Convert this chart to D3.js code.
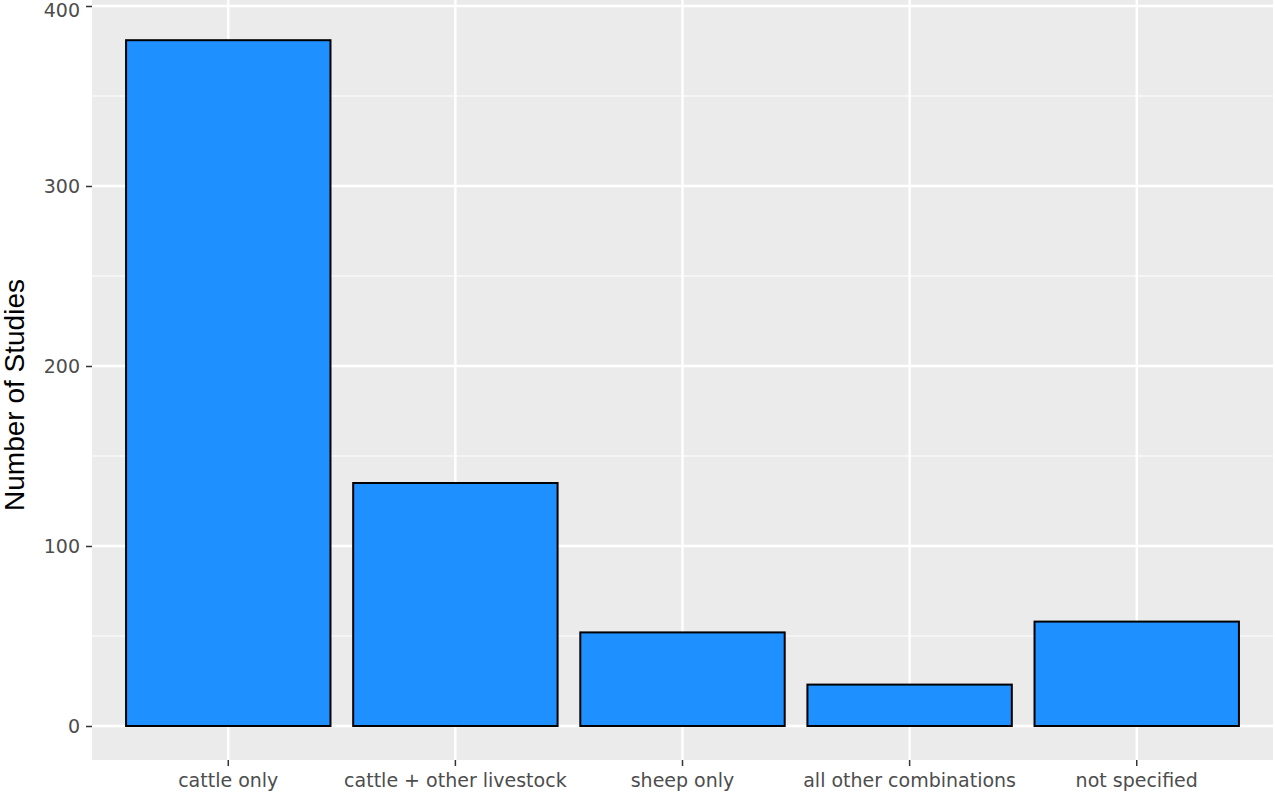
<!DOCTYPE html>
<html>
<head>
<meta charset="UTF-8" />
<script src="https://d3js.org/d3.v7.min.js"></script>
<style>
  body { margin: 0; background: #fff; }
  svg text { font-family: "DejaVu Sans", sans-serif; }
</style>
</head>
<body>
<div id="chart"></div>
<script>
  const categories = ["cattle only", "cattle + other livestock", "sheep only", "all other combinations", "not specified"];
  const studies = [381, 135, 52, 23, 58];
  const yTicks = [0, 100, 200, 300, 400];

  const W = 1275, H = 799;
  const panel = { left: 92, right: 1273, top: 0, bottom: 760 };

  const svg = d3.select("#chart").append("svg")
    .attr("width", W).attr("height", H);

  // ggplot-style discrete expansion: 0.6 band on each side, bars 0.9 wide
  const x = d3.scaleBand()
    .domain(categories)
    .range([panel.left, panel.right])
    .paddingInner(0.1).paddingOuter(0.15);

  const y = d3.scaleLinear().domain([0, 400]).range([726, 6]);

  svg.append("rect")
    .attr("x", panel.left).attr("y", panel.top)
    .attr("width", panel.right - panel.left).attr("height", panel.bottom - panel.top)
    .attr("fill", "#ebebeb");

  const minor = [50, 150, 250, 350];
  svg.selectAll(".minor").data(minor).enter().append("line")
    .attr("x1", panel.left).attr("x2", panel.right)
    .attr("y1", d => y(d)).attr("y2", d => y(d))
    .attr("stroke", "#fff").attr("stroke-width", 1.2);

  svg.selectAll(".hmajor").data(yTicks).enter().append("line")
    .attr("x1", panel.left).attr("x2", panel.right)
    .attr("y1", d => y(d)).attr("y2", d => y(d))
    .attr("stroke", "#fff").attr("stroke-width", 2.4);

  svg.selectAll(".vmajor").data(categories).enter().append("line")
    .attr("x1", d => x(d) + x.bandwidth() / 2).attr("x2", d => x(d) + x.bandwidth() / 2)
    .attr("y1", panel.top).attr("y2", panel.bottom)
    .attr("stroke", "#fff").attr("stroke-width", 2.4);

  svg.selectAll(".bar").data(categories).enter().append("rect")
    .attr("x", d => x(d))
    .attr("width", x.bandwidth())
    .attr("y", (d, i) => y(studies[i]))
    .attr("height", (d, i) => y(0) - y(studies[i]))
    .attr("fill", "#1e90ff").attr("stroke", "#000").attr("stroke-width", 2);

  const yAxis = svg.append("g")
    .attr("transform", `translate(${panel.left},0)`)
    .call(d3.axisLeft(y).tickValues(yTicks).tickSize(6).tickPadding(6));
  const xAxis = svg.append("g")
    .attr("transform", `translate(0,${panel.bottom})`)
    .call(d3.axisBottom(x).tickSize(6).tickPadding(8));

  [yAxis, xAxis].forEach(g => {
    g.select(".domain").remove();
    g.selectAll(".tick line").attr("stroke", "#333").attr("stroke-width", 1.5);
    g.selectAll(".tick text").attr("fill", "#4d4d4d").style("font-size", "19px");
  });
  // keep the top tick label inside the picture
  yAxis.selectAll(".tick").filter(d => d === 400).select("text").attr("dy", "0.55em");

  svg.append("text")
    .attr("transform", `translate(24,${(panel.top + panel.bottom) / 2 + 15}) rotate(-90)`)
    .attr("text-anchor", "middle")
    .style("font-family", "'Liberation Sans', Arial, sans-serif")
    .style("font-size", "28px")
    .attr("fill", "#000")
    .text("Number of Studies");
</script>
</body>
</html>
